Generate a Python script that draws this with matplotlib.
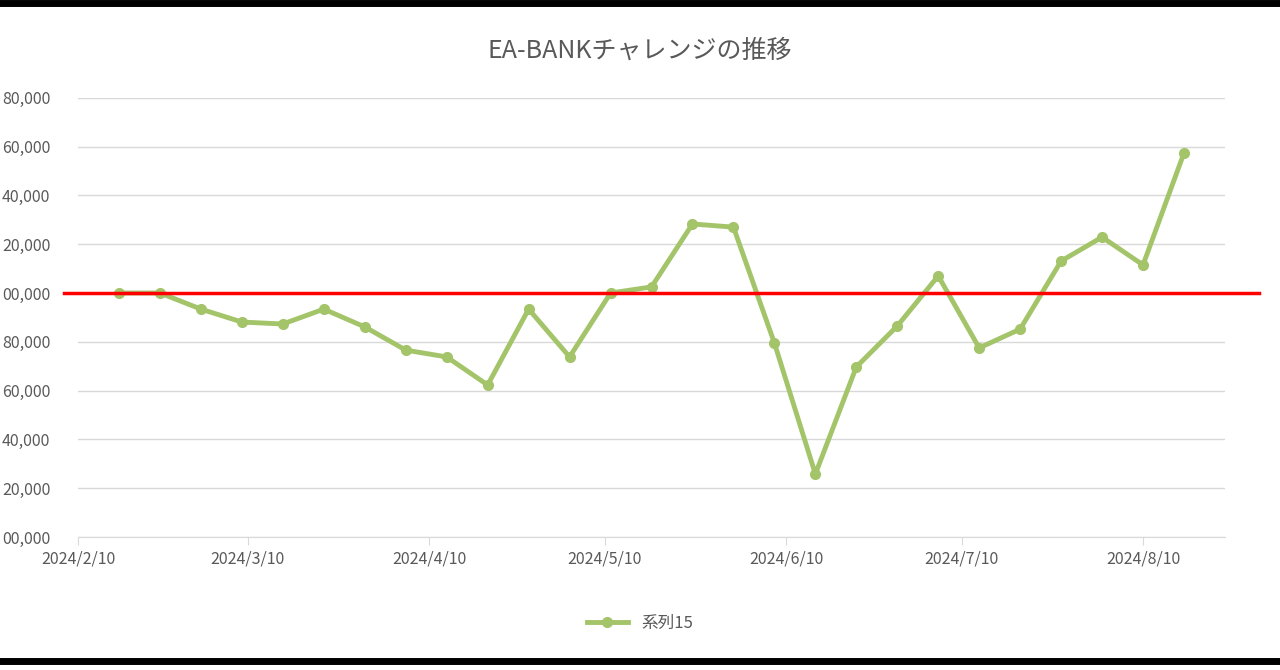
import matplotlib
matplotlib.use("Agg")
import matplotlib.pyplot as plt
import pandas as pd
from matplotlib.lines import Line2D

plt.rcParams['font.family'] = ['Noto Sans CJK JP', 'DejaVu Sans']

dates = pd.date_range("2024-02-17", periods=27, freq="7D")
values = [1000000, 1000000, 993400, 988100, 987300, 993400, 986100, 976600, 973800, 962300,
          993400, 973800, 1000000, 1002500, 1028300, 1027000, 979500, 925800, 969700, 986500,
          1007000, 977500, 985200, 1013100, 1022900, 1011500, 1057400]
series_name = "系列15"
title = "EA-BANKチャレンジの推移"
baseline = 1000000
xticks = pd.to_datetime(["2024-02-10", "2024-03-10", "2024-04-10", "2024-05-10",
                         "2024-06-10", "2024-07-10", "2024-08-10"])
yticks = list(range(900000, 1080001, 20000))

fig = plt.figure(figsize=(12.8, 6.7), dpi=100)
ax = fig.add_axes([0.061, 0.1985, 0.896, 0.6555])
grey = "#595959"

ax.plot(dates, values, color="#A4C46A", lw=3.5, marker="o", ms=7, label=series_name, zorder=3)
ax.set_xlim(pd.Timestamp("2024-02-10"), pd.Timestamp("2024-08-24"))
ax.set_ylim(900000, 1080000)
ax.set_yticks(yticks)
ax.set_yticklabels([f"{v:,}"[-6:] for v in yticks], color=grey, fontsize=11.5)
ax.set_xticks(xticks)
ax.set_xticklabels([f"{d.year}/{d.month}/{d.day}" for d in xticks], color=grey, fontsize=11.5)
ax.tick_params(axis="y", length=0, pad=20)
ax.tick_params(axis="x", length=6, color="#d9d9d9", direction="out")
ax.grid(axis="y", color="#d9d9d9", lw=1)
for s in ["top", "right", "left"]:
    ax.spines[s].set_visible(False)
ax.spines["bottom"].set_color("#d9d9d9")
ax.set_axisbelow(True)

ax.plot([-0.012, 1.03], [baseline, baseline], color="red", lw=2.5,
        transform=ax.get_yaxis_transform(), clip_on=False, zorder=4)

fig.text(0.5, 0.925, title, ha="center", va="center", fontsize=18, color=grey)
fig.legend(loc="center", bbox_to_anchor=(0.5, 0.07), frameon=False, fontsize=12,
           handlelength=2.5, labelcolor=grey)

fig.add_artist(Line2D([0, 1], [0.996, 0.996], color="black", lw=5, transform=fig.transFigure))
fig.add_artist(Line2D([0, 1], [0.013, 0.013], color="black", lw=5, transform=fig.transFigure))

fig.savefig("out.png", dpi=100)
